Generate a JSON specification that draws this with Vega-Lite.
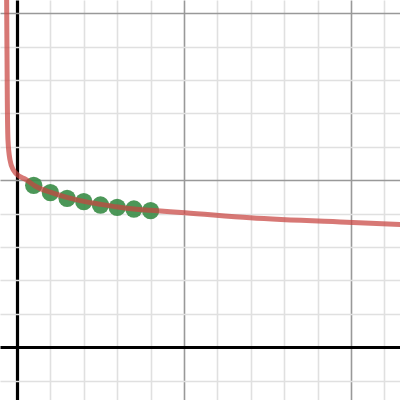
{
  "$schema": "https://vega.github.io/schema/vega-lite/v6.json",
  "width": 400,
  "height": 400,
  "autosize": {"type": "fit", "contains": "padding"},
  "padding": 0,
  "background": "white",
  "config": {"view": {"stroke": null}},
  "datasets": {
    "points": [
      {"x": 0.5, "y": 4.85},
      {"x": 1.0, "y": 4.63},
      {"x": 1.5, "y": 4.46},
      {"x": 2.0, "y": 4.36},
      {"x": 2.5, "y": 4.26},
      {"x": 3.0, "y": 4.19},
      {"x": 3.5, "y": 4.14},
      {"x": 4.0, "y": 4.09}
    ],
    "curve": [
      {"x": -0.32, "y": 11.5},
      {"x": -0.31, "y": 10.4},
      {"x": -0.29, "y": 7.4},
      {"x": -0.27, "y": 6.2},
      {"x": -0.21, "y": 5.61},
      {"x": -0.11, "y": 5.31},
      {"x": 0.09, "y": 5.11},
      {"x": 0.24, "y": 5.04},
      {"x": 0.54, "y": 4.83},
      {"x": 1.04, "y": 4.63},
      {"x": 1.52, "y": 4.48},
      {"x": 2.0, "y": 4.37},
      {"x": 2.51, "y": 4.28},
      {"x": 3.02, "y": 4.2},
      {"x": 3.5, "y": 4.14},
      {"x": 4.01, "y": 4.1},
      {"x": 5.03, "y": 4.03},
      {"x": 6.98, "y": 3.88},
      {"x": 10.03, "y": 3.74},
      {"x": 11.47, "y": 3.68},
      {"x": 12.0, "y": 3.66}
    ]
  },
  "layer": [
    {
      "data": {"name": "points"},
      "mark": {"type": "circle", "size": 300, "color": "#388c46", "opacity": 0.9},
      "encoding": {
        "x": {
          "field": "x",
          "type": "quantitative",
          "scale": {"domain": [-0.509, 11.467], "nice": false, "zero": false},
          "axis": {
            "values": [0, 1, 2, 3, 4, 5, 6, 7, 8, 9, 10, 11],
            "tickCount": 100,
            "title": null,
            "labels": false,
            "ticks": false,
            "domain": false,
            "grid": true,
            "gridOpacity": 1,
            "gridColor": {"condition": [{"test": "datum.value === 0", "value": "#000000"}, {"test": "datum.value % 5 === 0", "value": "#999999"}], "value": "#e0e0e0"},
            "gridWidth": {"condition": {"test": "datum.value === 0", "value": 3.2}, "value": 1.6}
          }
        },
        "y": {
          "field": "y",
          "type": "quantitative",
          "scale": {"domain": [-1.578, 10.398], "nice": false, "zero": false},
          "axis": {
            "values": [-1, 0, 1, 2, 3, 4, 5, 6, 7, 8, 9, 10],
            "tickCount": 100,
            "title": null,
            "labels": false,
            "ticks": false,
            "domain": false,
            "grid": true,
            "gridOpacity": 1,
            "gridColor": {"condition": [{"test": "datum.value === 0", "value": "#000000"}, {"test": "datum.value % 5 === 0", "value": "#999999"}], "value": "#e0e0e0"},
            "gridWidth": {"condition": {"test": "datum.value === 0", "value": 3.2}, "value": 1.6}
          }
        }
      }
    },
    {
      "data": {"name": "curve"},
      "mark": {"type": "line", "color": "#c74440", "strokeWidth": 5, "opacity": 0.72, "interpolate": "monotone", "clip": true},
      "encoding": {
        "x": {"field": "x", "type": "quantitative"},
        "y": {"field": "y", "type": "quantitative"},
        "order": {"field": "x", "type": "quantitative"}
      }
    }
  ]
}
